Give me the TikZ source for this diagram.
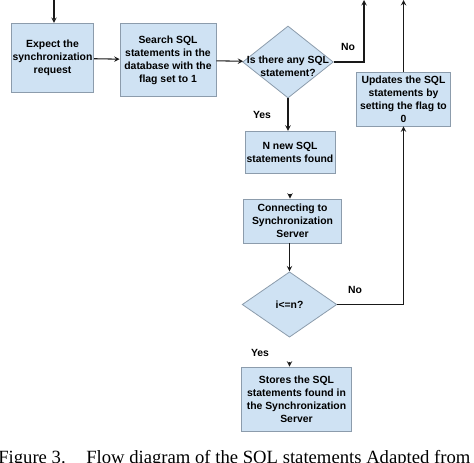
\documentclass[tikz,border=0pt]{standalone}
\usepackage{fontspec}
\setmainfont{Liberation Serif}
\newfontfamily\flowfont{Liberation Sans}
\usetikzlibrary{shapes.geometric, arrows}
\definecolor{syncfill}{RGB}{207, 226, 243}
\definecolor{syncedge}{RGB}{140, 156, 172}
\definecolor{syncline}{RGB}{25, 25, 25}

\begin{document}
\begin{tikzpicture}[
    x=0.75pt, y=-0.75pt,
    box/.style={
        rectangle,
        draw=syncedge,
        fill=syncfill,
        line width=0.6pt,
        align=center,
        inner sep=1pt,
        font=\flowfont\bfseries\fontsize{7.8}{9.75}\selectfont
    },
    decision/.style={
        diamond,
        draw=syncedge,
        fill=syncfill,
        line width=0.6pt,
        inner sep=0pt
    },
    dtext/.style={
        align=center,
        inner sep=0pt,
        font=\flowfont\bfseries\fontsize{7.8}{9.75}\selectfont
    },
    arrow/.style={
        ->,
        >=stealth,
        line width=0.8pt,
        syncline
    },
    answer/.style={
        font=\flowfont\bfseries\fontsize{7.8}{9.75}\selectfont
    },
    caption/.style={
        anchor=base west,
        inner sep=0pt,
        font=\fontsize{14}{16}\selectfont
    }
]

\useasboundingbox (0,0) rectangle (474,462);

% Free ends of the connectors
\coordinate (in) at (54,0);
\coordinate (exitA) at (364,0);
\coordinate (exitB) at (403.5,0);

% Boxes
\node[box, minimum width=59pt, minimum height=52pt] (expect) at (52.5,58) {Expect the\\synchronization\\request};
\node[box, minimum width=72pt, minimum height=55pt] (search) at (168,60) {Search SQL\\statements in the\\database with the\\flag set to 1};
\node[box, minimum width=70pt, minimum height=40.5pt] (updates) at (403.5,99) {Updates the SQL\\statements by\\setting the flag to\\0};
\node[box, minimum width=67.5pt, minimum height=32pt] (found) at (290,152.5) {N new SQL\\statements found};
\node[box, minimum width=73pt, minimum height=33pt] (connect) at (292.5,221) {Connecting to\\Synchronization\\Server};
\node[box, minimum width=82pt, minimum height=48pt] (store) at (296.5,399) {Stores the SQL\\statements found in\\the Synchronization\\Server};

% Decisions
\node[decision, minimum width=68pt, minimum height=54pt,
      label={[dtext, yshift=-3.5pt]center:{Is there any SQL\\statement?}}] (anysql) at (288,62) {};
\node[decision, minimum width=71pt, minimum height=49pt,
      label={[dtext]center:{i<=n?}}] (check) at (289.5,304.5) {};

% Answers
\node[answer] (noA) at (348,47) {No};
\node[answer] (yesA) at (262,115) {Yes};
\node[answer] (noB) at (355,290) {No};
\node[answer] (yesB) at (260,353) {Yes};

% Connections
\draw[arrow] (in) -- (in |- expect.north);
\draw[arrow] (expect) -- (search);
\draw[arrow] (search) -- (anysql);
\draw[arrow] (anysql.east) -| (exitA);
\draw[arrow] (anysql) -- (anysql |- found.north);
\draw[arrow, shorten <=14.5pt] (found.south) -- (found.south |- connect.north);
\draw[arrow] (connect.south -| check) -- (check.north);
\draw[arrow] (check.east) -| (updates.south);
\draw[arrow] (updates) -- (exitB);
\draw[arrow, shorten <=18pt] (check.south) -- (check.south |- store.north);

% Caption, cut by the page edge
\node[caption] (fignum) at (-2,463) {Figure 3.};
\node[caption] (figtext) at (86,463) {Flow diagram of the SQL statements Adapted from};

\end{tikzpicture}
\end{document}
